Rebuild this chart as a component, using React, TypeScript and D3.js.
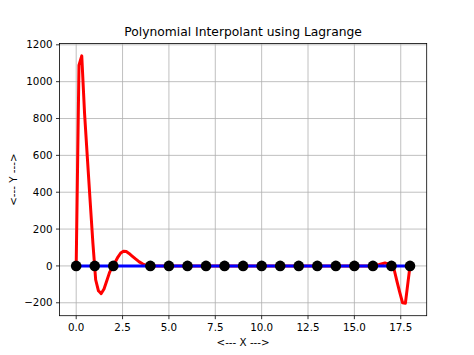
import React from "react";
import * as d3 from "d3";

// nodes used for the interpolation (x = 3 is missing)
const nodeX = [0, 1, 2, 4, 5, 6, 7, 8, 9, 10, 11, 12, 13, 14, 15, 16, 17, 18];
const nodeY = [0, 0, 0, 0, 0, 0, 0, 0, 0, 0, 0, 0, 0, 0, 0, 0, 0, 0];

// red Lagrange curve
const curveX = [
  0, 0.15, 0.3, 0.45, 0.6, 0.75, 0.9, 1.05, 1.2, 1.35, 1.5, 1.65, 1.8, 1.95, 2.1, 2.25,
  2.4, 2.55, 2.7, 2.85, 3.0, 3.2, 3.4, 3.6, 3.8, 4, 5, 6, 7, 8, 9, 10, 11, 12, 13, 14,
  15, 16, 16.35, 16.65, 16.85, 17, 17.15, 17.3, 17.45, 17.6, 17.75, 18,
];
const curveY = [
  0, 1090, 1140, 830, 590, 355, 125, -75, -135, -150, -125, -80, -35, -5, 20, 48,
  70, 80, 78, 68, 55, 38, 22, 10, 3, 0, 0, 0, 0, 0, 0, 0, 0, 0, 0, 0,
  0, 0, 8, 16, 10, 0, -22, -85, -145, -200, -203, 0,
];

const xTicks = [0, 2.5, 5, 7.5, 10, 12.5, 15, 17.5];
const yTicks = [-200, 0, 200, 400, 600, 800, 1000, 1200];

const W = 474;
const H = 355;
const left = 59.5;
const right = 426.7;
const top = 43.5;
const bottom = 315.7;
const font = "DejaVu Sans, sans-serif";

const minus = (s: string) => s.replace("-", "\u2212");

export default function App() {
  // matplotlib style 5% margins
  const xExt = d3.extent(nodeX) as [number, number];
  const yExt = d3.extent(curveY.concat(nodeY)) as [number, number];
  const xPad = (xExt[1] - xExt[0]) * 0.05;
  const yPad = (yExt[1] - yExt[0]) * 0.05;

  const x = d3.scaleLinear().domain([xExt[0] - xPad, xExt[1] + xPad]).range([left, right]);
  const y = d3.scaleLinear().domain([yExt[0] - yPad, yExt[1] + yPad]).range([bottom, top]);

  const curve = curveX.map((v, i) => [v, curveY[i]] as [number, number]);
  const nodes = nodeX.map((v, i) => [v, nodeY[i]] as [number, number]);

  const line = d3
    .line<[number, number]>()
    .x((d) => x(d[0]))
    .y((d) => y(d[1]));

  return (
    <svg width={W} height={H} style={{ position: "absolute", left: 0, top: 0, background: "#fff" }}>
      <defs>
        <clipPath id="plot">
          <rect x={left} y={top} width={right - left} height={bottom - top} />
        </clipPath>
      </defs>

      {/* grid */}
      {xTicks.map((t) => (
        <line key={"gx" + t} x1={x(t)} x2={x(t)} y1={top} y2={bottom} stroke="#b0b0b0" strokeWidth={0.8} />
      ))}
      {yTicks.map((t) => (
        <line key={"gy" + t} x1={left} x2={right} y1={y(t)} y2={y(t)} stroke="#b0b0b0" strokeWidth={0.8} />
      ))}

      <g clipPath="url(#plot)">
        <path d={line(curve) || ""} fill="none" stroke="#ff0000" strokeWidth={3} strokeLinejoin="round" />
        <path d={line(nodes) || ""} fill="none" stroke="#0000ff" strokeWidth={3} />
        {nodes.map((d, i) => (
          <circle key={i} cx={x(d[0])} cy={y(d[1])} r={5.3} fill="#000" />
        ))}
      </g>

      {/* frame */}
      <rect x={left} y={top} width={right - left} height={bottom - top} fill="none" stroke="#000" strokeWidth={0.8} />

      {/* x ticks */}
      {xTicks.map((t) => (
        <g key={"tx" + t}>
          <line x1={x(t)} x2={x(t)} y1={bottom} y2={bottom + 3.5} stroke="#000" strokeWidth={0.8} />
          <text x={x(t)} y={bottom + 15.5} textAnchor="middle" fontFamily={font} fontSize={10.3} fill="#000">
            {minus(t.toFixed(1))}
          </text>
        </g>
      ))}

      {/* y ticks */}
      {yTicks.map((t) => (
        <g key={"ty" + t}>
          <line x1={left - 3.5} x2={left} y1={y(t)} y2={y(t)} stroke="#000" strokeWidth={0.8} />
          <text x={left - 7} y={y(t)} dy="0.35em" textAnchor="end" fontFamily={font} fontSize={10.3} fill="#000">
            {minus(String(t))}
          </text>
        </g>
      ))}

      <text x={(left + right) / 2} y={bottom + 30} textAnchor="middle" fontFamily={font} fontSize={10.3} fill="#000">
        {"<--- X --->"}
      </text>
      <text
        transform={`translate(17,${(top + bottom) / 2}) rotate(-90)`}
        textAnchor="middle"
        fontFamily={font}
        fontSize={10.3}
        fill="#000"
      >
        {"<--- Y --->"}
      </text>
      <text x={(left + right) / 2} y={top - 7.5} textAnchor="middle" fontFamily={font} fontSize={12.3} fill="#000">
        Polynomial Interpolant using Lagrange
      </text>
    </svg>
  );
}
